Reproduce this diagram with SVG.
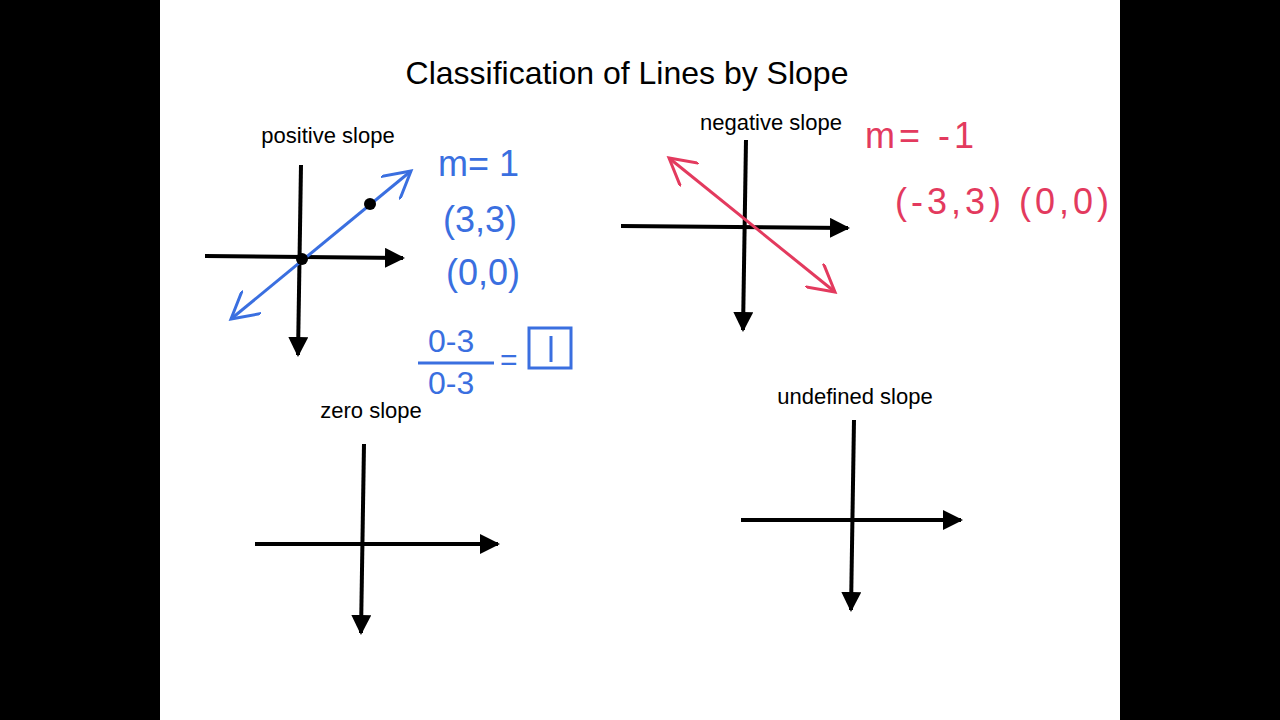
<svg xmlns="http://www.w3.org/2000/svg" width="1280" height="720" viewBox="0 0 1280 720">
<defs>
<marker id="ah" viewBox="0 0 10 10" refX="9" refY="5" markerWidth="5" markerHeight="5" orient="auto"><path d="M0,0 L10,5 L0,10 Z" fill="#000"/></marker>
<marker id="ob" viewBox="0 0 10 10" refX="9" refY="5" markerWidth="10" markerHeight="10" orient="auto-start-reverse"><path d="M0,0 L9,5 L0,10" fill="none" stroke="#3a6fe0" stroke-width="1"/></marker>
<marker id="or" viewBox="0 0 10 10" refX="9" refY="5" markerWidth="10" markerHeight="10" orient="auto-start-reverse"><path d="M0,0 L9,5 L0,10" fill="none" stroke="#e33a5e" stroke-width="1"/></marker>
</defs>
<style>
.ax{stroke:#000;stroke-width:4;fill:none;marker-end:url(#ah)}
.lbl{font-family:"Liberation Sans",Arial,sans-serif;font-size:22px;fill:#000;text-anchor:middle}
.bl{font-family:"Liberation Sans",Arial,sans-serif;font-size:36px;fill:#3a6fe0}
.rd{font-family:"Liberation Sans",Arial,sans-serif;font-size:36px;fill:#e33a5e}
</style>
<rect width="1280" height="720" fill="#000"/>
<rect x="160" y="0" width="960" height="720" fill="#fff"/>
<text x="627" y="84" class="lbl" style="font-size:32px">Classification of Lines by Slope</text>
<g id="positive">
<text x="328" y="143" class="lbl">positive slope</text>
<line x1="205" y1="256" x2="403" y2="258" class="ax"/>
<line x1="301" y1="165" x2="298" y2="355" class="ax"/>
<line x1="231" y1="319" x2="411" y2="171" stroke="#3a6fe0" stroke-width="3" marker-start="url(#ob)" marker-end="url(#ob)"/>
<circle cx="370" cy="204" r="6" fill="#000"/>
<circle cx="302" cy="259" r="6" fill="#000"/>
<text x="438" y="176" class="bl">m= 1</text>
<text x="443" y="232" class="bl">(3,3)</text>
<text x="446" y="285" class="bl">(0,0)</text>
<text x="428" y="352" class="bl" style="font-size:32px">0-3</text>
<line x1="418" y1="363" x2="494" y2="363" stroke="#3a6fe0" stroke-width="3"/>
<text x="428" y="394" class="bl" style="font-size:32px">0-3</text>
<text x="500" y="370" class="bl" style="font-size:30px">=</text>
<rect x="529" y="328" width="42" height="40" fill="none" stroke="#3a6fe0" stroke-width="3"/>
<line x1="551" y1="336" x2="551" y2="362" stroke="#3a6fe0" stroke-width="3"/>
</g>
<g id="negative">
<text x="771" y="130" class="lbl">negative slope</text>
<line x1="621" y1="226" x2="848" y2="228" class="ax"/>
<line x1="746" y1="140" x2="743" y2="330" class="ax"/>
<line x1="669" y1="158" x2="835" y2="292" stroke="#e33a5e" stroke-width="3" marker-start="url(#or)" marker-end="url(#or)"/>
<text x="865" y="148" class="rd" style="letter-spacing:4px">m= -1</text>
<text x="895" y="214" class="rd" style="letter-spacing:4px">(-3,3) (0,0)</text>
</g>
<g id="zero">
<text x="371" y="418" class="lbl">zero slope</text>
<line x1="255" y1="544" x2="498" y2="544" class="ax"/>
<line x1="364" y1="444" x2="361" y2="633" class="ax"/>
</g>
<g id="undefined">
<text x="855" y="404" class="lbl">undefined slope</text>
<line x1="741" y1="520" x2="961" y2="520" class="ax"/>
<line x1="854" y1="420" x2="851" y2="610" class="ax"/>
</g>
</svg>
